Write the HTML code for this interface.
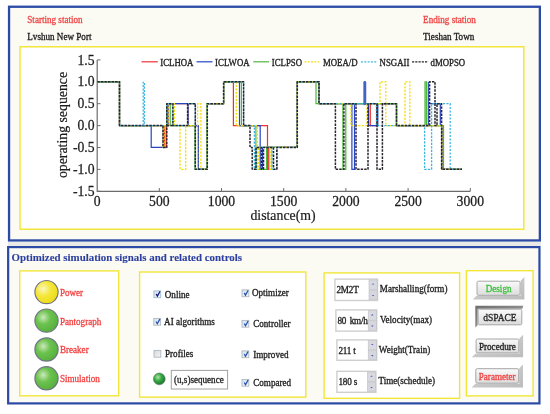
<!DOCTYPE html>
<html><head><meta charset="utf-8"><title>Train simulation panel</title>
<style>
html,body{margin:0;padding:0;background:#fefefe;}
body{width:550px;height:414px;overflow:hidden;position:relative;}
svg{position:absolute;left:0;top:0;display:block;}
text{font-family:"Liberation Serif","Times New Roman",serif;paint-order:stroke;stroke-linejoin:round;}
</style></head><body>
<svg width="550" height="414" viewBox="0 0 550 414">
<defs>
<radialGradient id="ledY" cx="0.36" cy="0.36" r="0.72">
<stop offset="0" stop-color="#fbf6c0"/><stop offset="0.45" stop-color="#f4e73a"/><stop offset="1" stop-color="#ecda14"/>
</radialGradient>
<radialGradient id="ledG" cx="0.36" cy="0.36" r="0.72">
<stop offset="0" stop-color="#cbe9bb"/><stop offset="0.42" stop-color="#6cc24e"/><stop offset="0.85" stop-color="#5ab440"/><stop offset="1" stop-color="#4ca236"/>
</radialGradient>
<radialGradient id="ledG2" cx="0.38" cy="0.36" r="0.7">
<stop offset="0" stop-color="#b0e4a8"/><stop offset="0.45" stop-color="#36a844"/><stop offset="1" stop-color="#17702a"/>
</radialGradient>
<linearGradient id="btn" x1="0" y1="0" x2="0" y2="1">
<stop offset="0" stop-color="#fafafa"/><stop offset="1" stop-color="#dcdcdc"/>
</linearGradient>
<linearGradient id="cbf" x1="0" y1="0" x2="1" y2="1"><stop offset="0" stop-color="#cfe1ec"/><stop offset="1" stop-color="#f6f9fb"/></linearGradient>
<linearGradient id="cbu" x1="0" y1="0" x2="1" y2="1"><stop offset="0" stop-color="#d6d8dc"/><stop offset="1" stop-color="#f4f4f4"/></linearGradient>
<linearGradient id="shd" x1="0" y1="0" x2="1" y2="1"><stop offset="0" stop-color="#d2d2d2"/><stop offset="1" stop-color="#bdbdbd"/></linearGradient>
<linearGradient id="shp" x1="0" y1="0" x2="1" y2="1"><stop offset="0" stop-color="#6e6e6e"/><stop offset="1" stop-color="#a8a8a8"/></linearGradient>
</defs>

<!-- top panel -->
<rect x="9.05" y="6.75" width="530.8" height="233.7" fill="#fbfaf3" stroke="#2b4aa6" stroke-width="2.3"/>
<rect x="8" y="242" width="533" height="4" fill="#e9e9e6"/>
<text font-size="9.1" fill="#f04848" stroke="#f04848" stroke-width="0.3" transform="translate(27.30,23.20) scale(1,1.045)">Starting station</text>
<text font-size="9.1" fill="#222" stroke="#222" stroke-width="0.3" transform="translate(27.30,39.60) scale(1,1.045)">Lvshun New Port</text>
<text font-size="9.1" fill="#f04848" stroke="#f04848" stroke-width="0.3" transform="translate(423.10,23.20) scale(1,1.045)">Ending station</text>
<text font-size="9.1" fill="#222" stroke="#222" stroke-width="0.3" transform="translate(423.10,39.60) scale(1,1.045)">Tieshan Town</text>
<rect x="20" y="46.75" width="503.8" height="182.5" fill="#fff" stroke="#f2e63a" stroke-width="1.5"/>

<path d="M97.2,59.9 V191.3 H470.3" fill="none" stroke="#6c6c6c" stroke-width="1.2"/>
<path d="M97.2,59.90 h3.3 M97.2,81.80 h3.3 M97.2,103.70 h3.3 M97.2,125.60 h3.3 M97.2,147.50 h3.3 M97.2,169.40 h3.3 M97.2,191.30 h3.3 M159.30,191.3 v-3.3 M221.50,191.3 v-3.3 M283.70,191.3 v-3.3 M345.90,191.3 v-3.3 M408.10,191.3 v-3.3 M470.30,191.3 v-3.3" stroke="#6c6c6c" stroke-width="1"/>
<g font-size="13.7" fill="#1b1b1b" stroke="#1b1b1b" stroke-width="0.25"><text class="tk" text-anchor="end" transform="translate(94.60,64.50) scale(1,1.140)">1.5</text><text class="tk" text-anchor="end" transform="translate(94.60,86.40) scale(1,1.140)">1.0</text><text class="tk" text-anchor="end" transform="translate(94.60,108.30) scale(1,1.140)">0.5</text><text class="tk" text-anchor="end" transform="translate(94.60,130.20) scale(1,1.140)">0.0</text><text class="tk" text-anchor="end" transform="translate(94.60,152.10) scale(1,1.140)">-0.5</text><text class="tk" text-anchor="end" transform="translate(94.60,174.00) scale(1,1.140)">-1.0</text><text class="tk" text-anchor="end" transform="translate(94.60,195.90) scale(1,1.140)">-1.5</text><text class="tk" text-anchor="middle" transform="translate(97.10,206.00) scale(1,1.140)">0</text><text class="tk" text-anchor="middle" transform="translate(159.30,206.00) scale(1,1.140)">500</text><text class="tk" text-anchor="middle" transform="translate(221.50,206.00) scale(1,1.140)">1000</text><text class="tk" text-anchor="middle" transform="translate(283.70,206.00) scale(1,1.140)">1500</text><text class="tk" text-anchor="middle" transform="translate(345.90,206.00) scale(1,1.140)">2000</text><text class="tk" text-anchor="middle" transform="translate(408.10,206.00) scale(1,1.140)">2500</text><text class="tk" text-anchor="middle" transform="translate(470.30,206.00) scale(1,1.140)">3000</text></g>
<text x="283" y="219.6" font-size="13.8" fill="#1b1b1b" stroke="#1b1b1b" stroke-width="0.2" text-anchor="middle">distance(m)</text>
<text transform="translate(67,125) rotate(-90)" font-size="13.8" fill="#1b1b1b" stroke="#1b1b1b" stroke-width="0.2" text-anchor="middle">operating sequence</text>
<path d="M97.3,81.8 H119.5 V 125.6 H164.6 V 147.45 H166.3 V 125.6 H168 V 103.7 H188 V 125.6 H198.4 V 169.3 H207.4 V 103.7 H223.6 V 81.8 H233.4 V 125.6 H267.5 V 169.3 H268.8 V 147.45 H297.3 V 81.8 H319 V 103.7 H370.3 V 125.6 H377.1 V 103.7 H396.5 V 125.6 H441.6 V 169.3 H462" fill="none" stroke="#f03030" stroke-width="1.2"/>
<path d="M97.3,81.8 H119.5 V 125.6 H151.2 V 147.45 H163.3 V 125.6 H168 V 103.7 H188 V 125.6 H198.4 V 169.3 H207.4 V 103.7 H223.6 V 81.8 H239.5 V 125.6 H260.2 V 169.3 H262.4 V 147.45 H297.3 V 81.8 H319 V 103.7 H351.9 V 169.3 H354.5 V 103.7 H368.6 V 125.6 H377.8 V 103.7 H396.5 V 125.6 H428.3 V 81.8 V 103.7 H440.3 V 125.6 H442.9 V 169.3 H462" fill="none" stroke="#2844c0" stroke-width="1.2"/>
<path d="M97.3,81.8 H119.5 V 125.6 H166.8 V 103.7 H170.2 V 125.6 H195 V 169.3 H207 V 103.7 H223.6 V 81.8 H241.4 V 125.6 H255.9 V 169.3 H266.6 V 147.45 H297.3 V 81.8 H316 V 103.7 H342.9 V 169.3 H345.8 V 103.7 H396.5 V 125.6 H425 V 81.8 H426.4 V 125.6 H443.5 V 169.3 H462" fill="none" stroke="#4cb83a" stroke-width="1.2"/>
<path d="M97.3,81.8 H119.5 V 125.6 H163.3 V 147.45 H164 V 125.6 H168 V 103.7 H174.5 V 125.6 H180 V 169.3 H185.7 V 125.6 H195.3 V 169.3 H197.6 V 103.7 H200.9 V 169.3 H207.3 V 103.7 H223.6 V 81.8 H236.3 V 125.6 H257.3 V 169.3 H258.5 V 147.45 H270 V 169.3 H271.5 V 147.45 H297.3 V 81.8 H319 V 103.7 H351 V 125.6 H367 V 103.7 H380 V 81.8 H385.8 V 125.6 H405 V 81.8 H409.8 V 125.6 H442 V 169.3 H462" fill="none" stroke="#f2df10" stroke-width="1.3" stroke-dasharray="2.2,1.3"/>
<path d="M97.3,81.8 H119.5 V 125.6 H166.8 V 103.7 H172.9 V 125.6 H187.6 V 103.7 H195.3 V 169.3 H207.3 V 103.7 H223.6 V 81.8 H243.6 V 125.6 H254.4 V 169.3 H256.4 V 147.45 H272 V 169.3 H277.2 V 147.45 H297.3 V 81.8 H319 V 103.7 H376.4 V 125.6 H424.6 V 169.3 H431.6 V 103.7 H450.2 V 169.3 H462" fill="none" stroke="#3cb4e0" stroke-width="1.3" stroke-dasharray="2.2,1.3"/>
<path d="M97.3,81.8 H119.5 V 125.6 H163 V 147.45 H166.8 V 103.7 H172.9 V 125.6 H187.6 V 103.7 H195.3 V 169.3 H207.3 V 103.7 H223.6 V 81.8 H243.6 V 125.6 H250 V 147.45 H252.2 V 169.3 H256 V 147.45 H261.5 V 169.3 H263.5 V 147.45 H273.5 V 169.3 H276.8 V 147.45 H297.3 V 81.8 H319 V 103.7 H335.4 V 169.3 H343.9 V 103.7 H356 V 169.3 H368 V 103.7 H377 V 169.3 H382.4 V 103.7 H396.5 V 125.6 H429.6 V 81.8 H435 V 125.6 H437 V 103.7 H441.6 V 169.3 H462" fill="none" stroke="#28242c" stroke-width="1.5" stroke-dasharray="2.45,1.1" stroke-linejoin="round"/>
<path d="M166.8,125.6 H172.9" fill="none" stroke="#28242c" stroke-width="1.5" stroke-dasharray="2.45,1.1"/>
<path d="M143.2,125.6 V81.8" stroke="#3cb4e0" stroke-width="1.3" stroke-dasharray="2.2,1.3"/>
<path d="M144.4,125.6 V82.4" stroke="#3cb4e0" stroke-width="1.3" stroke-dasharray="2.2,1.3" stroke-dashoffset="1.7"/>
<path d="M364.8,103.7 V82.4" stroke="#4262c6" stroke-width="2.9" stroke-linecap="round"/>
<path d="M141.5,61.8 H157.8" stroke="#f03030" stroke-width="1.2"/>
<text font-size="8.8" fill="#222" stroke="#222" stroke-width="0.3" transform="translate(160.30,65.80) scale(1,1.060)">ICLHOA</text>
<path d="M196.5,61.8 H212.5" stroke="#2844c0" stroke-width="1.2"/>
<text font-size="8.8" fill="#222" stroke="#222" stroke-width="0.3" transform="translate(215.10,65.80) scale(1,1.060)">ICLWOA</text>
<path d="M253.3,61.8 H269.0" stroke="#4cb83a" stroke-width="1.2"/>
<text font-size="8.8" fill="#222" stroke="#222" stroke-width="0.3" transform="translate(271.80,65.80) scale(1,1.060)">ICLPSO</text>
<path d="M304.4,61.8 H319.6" stroke="#f4e020" stroke-width="1.2" stroke-dasharray="2,1.3"/>
<text font-size="8.8" fill="#222" stroke="#222" stroke-width="0.3" transform="translate(322.90,65.80) scale(1,1.060)">MOEA/D</text>
<path d="M361.0,61.8 H376.4" stroke="#40b8e0" stroke-width="1.2" stroke-dasharray="2,1.3"/>
<text font-size="8.8" fill="#222" stroke="#222" stroke-width="0.3" transform="translate(379.60,65.80) scale(1,1.060)">NSGAII</text>
<path d="M412.0,61.8 H428.0" stroke="#28242c" stroke-width="1.2" stroke-dasharray="2.2,1.05"/>
<text font-size="8.8" fill="#222" stroke="#222" stroke-width="0.3" transform="translate(430.50,65.80) scale(1,1.060)">dMOPSO</text>

<!-- bottom panel -->
<rect x="8.15" y="247.1" width="531.3" height="156.3" fill="#fbfaf3" stroke="#2b4aa6" stroke-width="2.2"/>
<text x="11.6" y="260.5" font-size="10.9" font-weight="bold" fill="#2c3fa0" stroke="#2c3fa0" stroke-width="0.1">Optimized simulation signals and related controls</text>

<rect x="19.75" y="270.9" width="98.9" height="124.9" fill="#fff" stroke="#f2e63a" stroke-width="1.4"/>
<rect x="139.6" y="272" width="166.2" height="125.1" fill="#fff" stroke="#f2e63a" stroke-width="1.4"/>
<rect x="324.1" y="272.9" width="135.5" height="125.4" fill="#fff" stroke="#f2e63a" stroke-width="1.4"/>
<rect x="466.4" y="270.7" width="66.7" height="125.2" fill="#fff" stroke="#f2e63a" stroke-width="1.4"/>

<circle cx="46.5" cy="292.1" r="11.6" fill="url(#ledY)" stroke="#747386" stroke-width="1.2"/>
<text font-size="9.1" fill="#f24444" stroke="#f24444" stroke-width="0.3" transform="translate(59.90,295.80) scale(1,1.045)">Power</text>
<circle cx="46.5" cy="320.6" r="11.6" fill="url(#ledG)" stroke="#747386" stroke-width="1.2"/>
<text font-size="9.1" fill="#f24444" stroke="#f24444" stroke-width="0.3" transform="translate(59.90,324.50) scale(1,1.045)">Pantograph</text>
<circle cx="46.5" cy="349.5" r="11.6" fill="url(#ledG)" stroke="#747386" stroke-width="1.2"/>
<text font-size="9.1" fill="#f24444" stroke="#f24444" stroke-width="0.3" transform="translate(59.90,353.30) scale(1,1.045)">Breaker</text>
<circle cx="46.5" cy="378.3" r="11.6" fill="url(#ledG)" stroke="#747386" stroke-width="1.2"/>
<text font-size="9.1" fill="#f24444" stroke="#f24444" stroke-width="0.3" transform="translate(59.90,381.90) scale(1,1.045)">Simulation</text>
<rect x="153.9" y="290.9" width="6.8" height="6.8" fill="url(#cbf)" stroke="#9dbdd0" stroke-width="0.9"/><path d="M156.4,294.4 l1.0,1.7 l2.4,-4.3" fill="none" stroke="#1a1a86" stroke-width="1.3" stroke-linecap="round"/>
<text font-size="9.1" fill="#222" stroke="#222" stroke-width="0.3" transform="translate(164.80,297.50) scale(1,1.045)">Online</text>
<rect x="153.8" y="318.4" width="6.8" height="6.8" fill="url(#cbf)" stroke="#b0b8c2" stroke-width="0.9"/><path d="M156.3,322.0 l1.0,1.7 l2.4,-4.3" fill="none" stroke="#2a52b4" stroke-width="1.3" stroke-linecap="round"/>
<text font-size="9.1" fill="#222" stroke="#222" stroke-width="0.3" transform="translate(164.10,325.00) scale(1,1.045)">AI algorithms</text>
<rect x="154.0" y="350.4" width="6.8" height="6.8" fill="url(#cbu)" stroke="#b0b8c2" stroke-width="0.9"/>
<text font-size="9.1" fill="#222" stroke="#222" stroke-width="0.3" transform="translate(165.00,356.80) scale(1,1.045)">Profiles</text>
<rect x="242.0" y="289.9" width="6.8" height="6.8" fill="url(#cbf)" stroke="#b0b8c2" stroke-width="0.9"/><path d="M244.5,293.4 l1.0,1.7 l2.4,-4.3" fill="none" stroke="#2a52b4" stroke-width="1.3" stroke-linecap="round"/>
<text font-size="9.1" fill="#222" stroke="#222" stroke-width="0.3" transform="translate(251.90,296.00) scale(1,1.045)">Optimizer</text>
<rect x="242.0" y="320.4" width="6.8" height="6.8" fill="url(#cbf)" stroke="#b0b8c2" stroke-width="0.9"/><path d="M244.5,324.0 l1.0,1.7 l2.4,-4.3" fill="none" stroke="#2a52b4" stroke-width="1.3" stroke-linecap="round"/>
<text font-size="9.1" fill="#222" stroke="#222" stroke-width="0.3" transform="translate(253.20,327.00) scale(1,1.045)">Controller</text>
<rect x="242.0" y="350.9" width="6.8" height="6.8" fill="url(#cbf)" stroke="#b0b8c2" stroke-width="0.9"/><path d="M244.5,354.5 l1.0,1.7 l2.4,-4.3" fill="none" stroke="#2a52b4" stroke-width="1.3" stroke-linecap="round"/>
<text font-size="9.1" fill="#222" stroke="#222" stroke-width="0.3" transform="translate(253.20,357.60) scale(1,1.045)">Improved</text>
<rect x="242.0" y="379.4" width="6.8" height="6.8" fill="url(#cbf)" stroke="#b0b8c2" stroke-width="0.9"/><path d="M244.5,383.0 l1.0,1.7 l2.4,-4.3" fill="none" stroke="#2a52b4" stroke-width="1.3" stroke-linecap="round"/>
<text font-size="9.1" fill="#222" stroke="#222" stroke-width="0.3" transform="translate(253.20,386.10) scale(1,1.045)">Compared</text>
<circle cx="159.3" cy="378.9" r="5.9" fill="url(#ledG2)" stroke="#5a7a5a" stroke-width="0.6"/>
<rect x="171.3" y="370.4" width="56.3" height="18.6" fill="#fff" stroke="#a0a0a0" stroke-width="1"/>
<text font-size="9.1" fill="#222" stroke="#222" stroke-width="0.3" transform="translate(174.00,383.20) scale(1,1.045)">(u,s)sequence</text>
<rect x="334.9" y="279.1" width="42.6" height="21.4" fill="#fff" stroke="#cfcfcf" stroke-width="1.4"/><rect x="369.0" y="279.9" width="8.2" height="9.6" fill="#d9dadf" stroke="#bfc0c6" stroke-width="0.6"/><rect x="369.0" y="290.1" width="8.2" height="9.6" fill="#d6d7dc" stroke="#bfc0c6" stroke-width="0.6"/><path d="M373.1,283.3 l1.3,1.3 h-2.6z M373.1,296.3 l1.3,-1.3 h-2.6z" fill="#4a5cc0"/><text font-size="9.2" letter-spacing="-0.2" word-spacing="0" fill="#222" stroke="#222" stroke-width="0.3" transform="translate(336.40,293.00) scale(1,1.045)">2M2T</text><text font-size="9.1" fill="#222" stroke="#222" stroke-width="0.3" transform="translate(379.80,292.20) scale(1,1.045)">Marshalling(form)</text>
<rect x="335.9" y="309.9" width="40.8" height="21.2" fill="#fff" stroke="#cfcfcf" stroke-width="1.4"/><rect x="368.2" y="310.7" width="8.2" height="9.5" fill="#d9dadf" stroke="#bfc0c6" stroke-width="0.6"/><rect x="368.2" y="320.8" width="8.2" height="9.5" fill="#d6d7dc" stroke="#bfc0c6" stroke-width="0.6"/><path d="M372.3,314.1 l1.3,1.3 h-2.6z M372.3,326.9 l1.3,-1.3 h-2.6z" fill="#4a5cc0"/><text font-size="9.2" letter-spacing="-0.2" word-spacing="1.4" fill="#222" stroke="#222" stroke-width="0.3" transform="translate(337.40,324.00) scale(1,1.045)">80 km/h</text><text font-size="9.1" fill="#222" stroke="#222" stroke-width="0.3" transform="translate(380.00,323.20) scale(1,1.045)">Velocity(max)</text>
<rect x="336.9" y="339.9" width="39.8" height="20.4" fill="#fff" stroke="#cfcfcf" stroke-width="1.4"/><rect x="368.2" y="340.7" width="8.2" height="9.1" fill="#d9dadf" stroke="#bfc0c6" stroke-width="0.6"/><rect x="368.2" y="350.4" width="8.2" height="9.1" fill="#d6d7dc" stroke="#bfc0c6" stroke-width="0.6"/><path d="M372.3,343.8 l1.3,1.3 h-2.6z M372.3,356.4 l1.3,-1.3 h-2.6z" fill="#4a5cc0"/><text font-size="9.2" letter-spacing="-0.2" word-spacing="0" fill="#222" stroke="#222" stroke-width="0.3" transform="translate(338.40,353.70) scale(1,1.045)">211 t</text><text font-size="9.1" fill="#222" stroke="#222" stroke-width="0.3" transform="translate(378.80,352.90) scale(1,1.045)">Weight(Train)</text>
<rect x="336.9" y="371.3" width="39.0" height="21.0" fill="#fff" stroke="#cfcfcf" stroke-width="1.4"/><rect x="367.4" y="372.1" width="8.2" height="9.4" fill="#d9dadf" stroke="#bfc0c6" stroke-width="0.6"/><rect x="367.4" y="382.1" width="8.2" height="9.4" fill="#d6d7dc" stroke="#bfc0c6" stroke-width="0.6"/><path d="M371.5,375.4 l1.3,1.3 h-2.6z M371.5,388.2 l1.3,-1.3 h-2.6z" fill="#4a5cc0"/><text font-size="9.2" letter-spacing="-0.2" word-spacing="0" fill="#222" stroke="#222" stroke-width="0.3" transform="translate(338.40,385.00) scale(1,1.045)">180 s</text><text font-size="9.1" fill="#222" stroke="#222" stroke-width="0.3" transform="translate(378.40,384.20) scale(1,1.045)">Time(schedule)</text>
<path d="M476.5,295.8 H520.6 V280.7 L524.4,276.9 V299.6 H472.7 Z" fill="url(#shd)"/><rect x="477.0" y="281.2" width="43.1" height="14.1" rx="1.5" fill="url(#btn)" stroke="#a6a6a6" stroke-width="1"/><text font-size="9.1" fill="#3fc040" text-anchor="middle" stroke="#3fc040" stroke-width="0.3" transform="translate(498.60,291.90) scale(1,1.045)">Design</text>
<path d="M477.6,325.3 V308.7 H522.3 L523.4,305.8 H475.3 V327.4 Z" fill="url(#shp)"/><rect x="478.1" y="309.2" width="43.7" height="15.6" rx="1.5" fill="url(#btn)" stroke="#a6a6a6" stroke-width="1"/><text font-size="9.5" fill="#262626" text-anchor="middle" stroke="#262626" stroke-width="0.3" transform="translate(499.90,320.60) scale(1,1.045)">dSPACE</text>
<path d="M475.6,353.4 H519.3 V338.5 L523.1,334.7 V357.2 H471.8 Z" fill="url(#shd)"/><rect x="476.1" y="339.0" width="42.7" height="13.9" rx="1.5" fill="url(#btn)" stroke="#a6a6a6" stroke-width="1"/><text font-size="9.1" fill="#222" text-anchor="middle" stroke="#222" stroke-width="0.3" transform="translate(497.40,349.60) scale(1,1.045)">Procedure</text>
<path d="M475.3,383.7 H519.2 V368.2 L523.0,364.4 V387.5 H471.5 Z" fill="url(#shd)"/><rect x="475.8" y="368.7" width="42.9" height="14.5" rx="1.5" fill="url(#btn)" stroke="#a6a6a6" stroke-width="1"/><text font-size="9.1" fill="#f24444" text-anchor="middle" stroke="#f24444" stroke-width="0.3" transform="translate(497.20,379.60) scale(1,1.045)">Parameter</text>
</svg>
</body></html>
